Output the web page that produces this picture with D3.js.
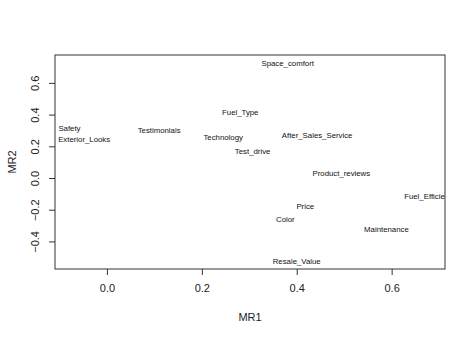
<!DOCTYPE html>
<html>
<head>
<meta charset="utf-8">
<script src="https://cdn.jsdelivr.net/npm/d3@7"></script>
<style>
  body { margin: 0; background: #fff; }
  svg { display: block; font-family: "Liberation Sans", Arial, sans-serif; }
</style>
</head>
<body>
<svg id="chart" width="474" height="338"></svg>
<script>
// Factor loadings on the first two factors (MR1, MR2)
const variables = ["Space_comfort", "Fuel_Type", "Safety", "Testimonials", "Exterior_Looks",
  "Technology", "After_Sales_Service", "Test_drive", "Product_reviews", "Fuel_Efficiency",
  "Price", "Color", "Maintenance", "Resale_Value"];
const mr1 = [0.381, 0.281, -0.079, 0.110, -0.048, 0.245, 0.443, 0.307, 0.494, 0.682,
  0.418, 0.376, 0.589, 0.400];
const mr2 = [0.726, 0.414, 0.316, 0.303, 0.242, 0.255, 0.271, 0.170, 0.032, -0.116,
  -0.179, -0.263, -0.325, -0.524];
const xTicks = [0.0, 0.2, 0.4, 0.6];
const yTicks = [-0.4, -0.2, 0.0, 0.2, 0.4, 0.6];

const svg = d3.select("#chart");
const plot = { left: 55, right: 445, top: 55, bottom: 269 };
const axisColor = "#333";

// Domains padded by 4% on each side
function padded(vals) {
  const [lo, hi] = d3.extent(vals);
  const p = (hi - lo) * 0.04;
  return [lo - p, hi + p];
}
const x = d3.scaleLinear().domain(padded(mr1)).range([plot.left, plot.right]);
const y = d3.scaleLinear().domain(padded(mr2)).range([plot.bottom, plot.top]);

svg.append("defs").append("clipPath").attr("id", "plotClip")
  .append("rect")
  .attr("x", plot.left).attr("y", plot.top)
  .attr("width", plot.right - plot.left).attr("height", plot.bottom - plot.top);

// Variable names placed at their loadings
svg.append("g").attr("clip-path", "url(#plotClip)")
  .selectAll("text").data(variables).join("text")
  .attr("x", (d, i) => x(mr1[i]))
  .attr("y", (d, i) => y(mr2[i]))
  .attr("dy", "0.35em")
  .attr("text-anchor", "middle")
  .attr("font-size", 7.8)
  .attr("fill", "#111")
  .text(d => d);

// Plot frame
svg.append("rect")
  .attr("x", plot.left).attr("y", plot.top)
  .attr("width", plot.right - plot.left).attr("height", plot.bottom - plot.top)
  .attr("fill", "none").attr("stroke", axisColor).attr("stroke-width", 1);

// Bottom axis
const xAxis = svg.append("g").attr("transform", `translate(0,${plot.bottom})`)
  .call(d3.axisBottom(x).tickValues(xTicks).tickFormat(d3.format(".1f")).tickSize(6).tickPadding(9));
xAxis.select(".domain").remove();
xAxis.selectAll("line").attr("stroke", axisColor);
xAxis.selectAll("text").attr("font-size", 11).attr("fill", "#222").attr("font-family", "Liberation Sans, Arial, sans-serif");

// Left axis with rotated labels
const yAxis = svg.append("g").attr("transform", `translate(${plot.left},0)`)
  .call(d3.axisLeft(y).tickValues(yTicks).tickFormat(d3.format(".1f")).tickSize(6));
yAxis.select(".domain").remove();
yAxis.selectAll("line").attr("stroke", axisColor);
yAxis.selectAll("text")
  .attr("font-size", 11).attr("fill", "#222").attr("font-family", "Liberation Sans, Arial, sans-serif")
  .attr("x", null).attr("dy", null)
  .attr("text-anchor", "middle")
  .attr("transform", "translate(-20,0) rotate(-90)")
  .attr("dominant-baseline", "central");

// Axis titles
svg.append("text")
  .attr("x", (plot.left + plot.right) / 2).attr("y", 317)
  .attr("dy", "0.35em").attr("text-anchor", "middle")
  .attr("font-size", 11).attr("fill", "#222")
  .text("MR1");
svg.append("text")
  .attr("transform", `translate(12,${(plot.top + plot.bottom) / 2}) rotate(-90)`)
  .attr("dy", "0.35em").attr("text-anchor", "middle")
  .attr("font-size", 11).attr("fill", "#222")
  .text("MR2");
</script>
</body>
</html>
